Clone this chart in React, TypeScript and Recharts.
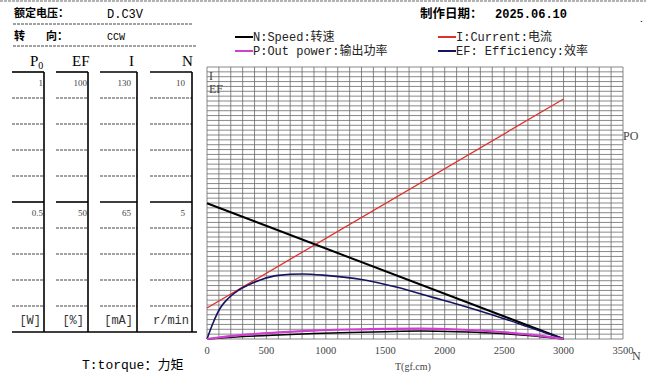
import React from "react";
import { LineChart, Line, XAxis, YAxis, CartesianGrid } from "recharts";

// torque axis (gf.cm)
const torqueTicks = [0, 500, 1000, 1500, 2000, 2500, 3000, 3500];

// N: speed (scale 0..10)
const speedT = [0, 3000];
const speedN = [4.99, 0];

// I: current (mA, scale 0..130)
const currentT = [0, 3000];
const currentI = [14.8, 114.7];

// EF: efficiency (%, scale 0..100)
const effT = [0, 50, 110, 180, 260, 350, 460, 600, 800, 1000, 1300, 1600, 1900, 2100, 2350, 2700, 3000];
const effEF = [0, 5.8, 11.3, 15.0, 17.8, 19.9, 21.9, 23.4, 23.9, 23.4, 21.9, 19.0, 15.3, 12.9, 9.6, 4.5, 0];

// P: output power (W, scale 0..1)
const powerT = [0, 300, 600, 900, 1200, 1500, 1800, 2100, 2400, 2700, 3000];
const powerP = [0, 0.015, 0.024, 0.031, 0.035, 0.0375, 0.038, 0.035, 0.028, 0.017, 0];
const powerP2 = [0, 0.009, 0.015, 0.02, 0.024, 0.027, 0.029, 0.027, 0.022, 0.013, 0];

// table texts
const colHeads = ["P", "EF", "I", "N"];
const topVals = ["1", "100", "130", "10"];
const midVals = ["0.5", "50", "65", "5"];
const units = ["[W]", "[%]", "[mA]", "r/min"];

const legendItems = [
  { label: "N:Speed:转速", color: "#000000" },
  { label: "I:Current:电流", color: "#e0302c" },
  { label: "P:Out power:输出功率", color: "#d040d0" },
  { label: "EF: Efficiency:效率", color: "#141460" },
];

const toPoints = (xs: number[], ys: number[]) => xs.map((t, i) => ({ t, v: ys[i] }));

const minorX = Array.from({ length: 36 }, (_, i) => i * 100);
const GRID_ROWS = 56;

const mono = "'Liberation Mono', 'Noto Sans CJK SC', monospace";
const serif = "'Liberation Serif', 'Noto Sans CJK SC', serif";
const cjk = "'Noto Sans CJK SC', sans-serif";

const colX = [
  [12, 44],
  [56, 88],
  [100, 137],
  [150, 192],
];
const headX = [30, 72, 129, 182];
const valEnd = [43, 87, 131, 185];
const unitEnd = [41, 84, 133, 189];

const TableLayer = () => {
  const rows = Array.from({ length: 11 }, (_, k) => 72 + k * 26);
  return (
    <svg width={650} height={377} style={{ position: "absolute", left: 0, top: 0 }}>
      <line x1={0} y1={1} x2={646} y2={1} stroke="#666" strokeDasharray="3 1" />
      <line x1={13} y1={24} x2={193} y2={24} stroke="#444" strokeDasharray="3 1" />
      <line x1={13} y1={46} x2={197} y2={46} stroke="#444" strokeDasharray="3 1" />
      <text x={14} y={17} fontFamily={cjk} fontSize={11} fontWeight={700}>额定电压：</text>
      <text x={107} y={18} fontFamily={mono} fontSize={12}>D.C3V</text>
      <text x={14} y={40} fontFamily={cjk} fontSize={11} fontWeight={700}>转</text>
      <text x={46} y={40} fontFamily={cjk} fontSize={11} fontWeight={700}>向：</text>
      <text x={107} y={40} fontFamily={mono} fontSize={10}>CCW</text>
      <text x={420} y={18} fontFamily={cjk} fontSize={12.5} fontWeight={700}>制作日期：</text>
      <text x={495} y={18} fontFamily={mono} fontSize={12} fontWeight={700}>2025.06.10</text>
      <text x={640} y={22} fontFamily={serif} fontSize={11}>.</text>
      {colHeads.map((h, i) => (
        <text key={h} x={headX[i]} y={66} fontFamily={serif} fontSize={15}>
          {h}
          {i === 0 && <tspan fontSize={10} dy={3}>0</tspan>}
        </text>
      ))}
      {colX.map(([a, b], i) => (
        <g key={i}>
          {rows.slice(0, 10).map((y, k) => (
            <line key={k} x1={a} y1={y} x2={b} y2={y} stroke={k === 0 || k === 5 ? "#000" : "#444"}
              strokeWidth={k === 0 || k === 5 ? 1.6 : 1} strokeDasharray={k === 0 || k === 5 ? undefined : "3 1"} />
          ))}
          <line x1={b} y1={72} x2={b} y2={332} stroke="#000" strokeWidth={1.6} />
          <text x={valEnd[i]} y={86} textAnchor="end" fontFamily={serif} fontSize={9} fill="#444">{topVals[i]}</text>
          <text x={valEnd[i]} y={216} textAnchor="end" fontFamily={serif} fontSize={9} fill="#444">{midVals[i]}</text>
          <text x={unitEnd[i]} y={324} textAnchor="end" fontFamily={mono} fontSize={12} fill="#333">{units[i]}</text>
        </g>
      ))}
      <line x1={12} y1={332} x2={197} y2={332} stroke="#000" strokeWidth={1.6} />
      <text x={82} y={369} fontFamily={mono} fontSize={13}>T:torque：力矩</text>
      {legendItems.map((it, i) => {
        const x = i % 2 === 0 ? 235 : 438;
        const y = i < 2 ? 37 : 51;
        return (
          <g key={it.label}>
            <line x1={x} y1={y} x2={x + 18} y2={y} stroke={it.color} strokeWidth={2} />
            <text x={x + 18} y={y + 4} fontFamily={mono} fontSize={12} fill="#222">{it.label}</text>
          </g>
        );
      })}
      <text x={209} y={80} fontFamily={serif} fontSize={12} fill="#444">I</text>
      <text x={209} y={93} fontFamily={serif} fontSize={12} fill="#444">EF</text>
      <text x={623} y={140} fontFamily={serif} fontSize={12} fill="#444">PO</text>
      <text x={632} y={360} fontFamily={serif} fontSize={12} fill="#444">N</text>
      <text x={395} y={370} fontFamily={serif} fontSize={10} fill="#444">T(gf.cm)</text>
    </svg>
  );
};

// horizontal grid rows derived from the plot area the chart hands over
const rowLines = ({ offset }: any) =>
  Array.from({ length: GRID_ROWS + 1 }, (_, i) => offset.top + (i * offset.height) / GRID_ROWS);

export default function App() {
  return (
    <div style={{ position: "relative", width: 650, height: 377, overflow: "hidden", background: "#fff" }}>
      <style>{`body{margin:0}`}</style>
      <div style={{ position: "absolute", left: 0, top: 0 }}>
        <LineChart width={650} height={377} margin={{ top: 67, right: 27, bottom: 18, left: 207 }}>
          <CartesianGrid yAxisId="I" stroke="#6a6a6a" strokeWidth={0.8} horizontalCoordinatesGenerator={rowLines} />
          <XAxis
            type="number"
            dataKey="t"
            domain={[0, 3500]}
            ticks={minorX}
            interval={0}
            height={20}
            axisLine={false}
            tickLine={false}
            tick={{ fontFamily: "Liberation Serif", fontSize: 10.5, fill: "#444" }}
            tickFormatter={(v: number) => (torqueTicks.includes(v) ? String(v) : "")}
          />
          <YAxis yAxisId="I" hide domain={[0, 130]} />
          <YAxis yAxisId="N" hide domain={[0, 10]} />
          <YAxis yAxisId="EF" hide domain={[0, 100]} />
          <YAxis yAxisId="P" hide domain={[0, 1]} />
          <Line yAxisId="I" data={toPoints(currentT, currentI)} dataKey="v" type="linear"
            stroke="#e0302c" strokeWidth={1.3} dot={false} isAnimationActive={false} />
          <Line yAxisId="N" data={toPoints(speedT, speedN)} dataKey="v" type="linear"
            stroke="#000" strokeWidth={2} dot={false} isAnimationActive={false} />
          <Line yAxisId="EF" data={toPoints(effT, effEF)} dataKey="v" type="monotone"
            stroke="#141460" strokeWidth={1.6} dot={false} isAnimationActive={false} />
          <Line yAxisId="P" data={toPoints(powerT, powerP2)} dataKey="v" type="monotone"
            stroke="#000" strokeWidth={1.5} dot={false} isAnimationActive={false} />
          <Line yAxisId="P" data={toPoints(powerT, powerP)} dataKey="v" type="monotone"
            stroke="#d040d0" strokeWidth={2.2} dot={false} isAnimationActive={false} />
        </LineChart>
      </div>
      <TableLayer />
    </div>
  );
}
